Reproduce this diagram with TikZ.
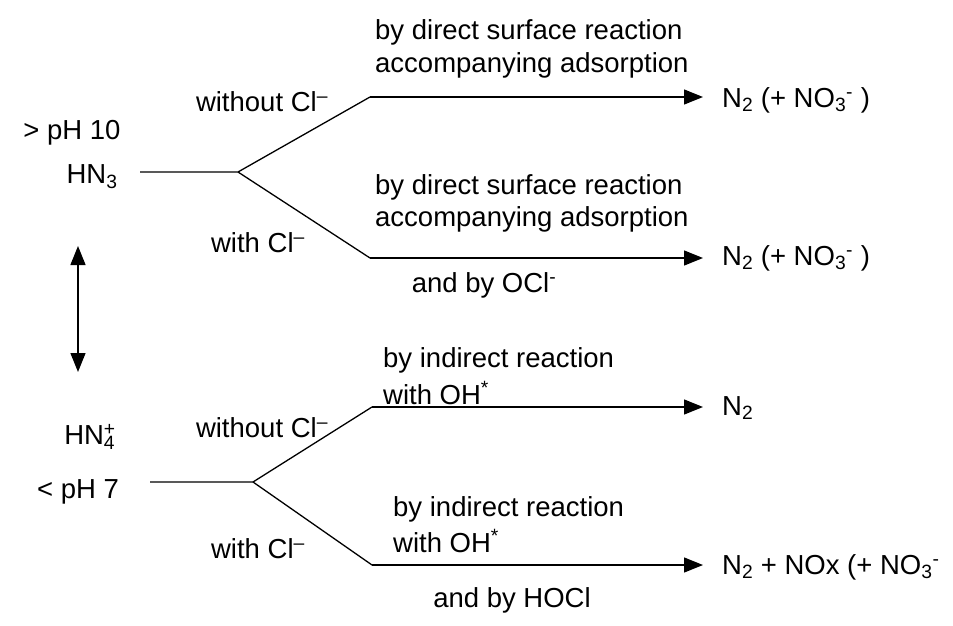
\documentclass[tikz,border=0pt]{standalone}
\usepackage{fontspec}
\setmainfont{Liberation Sans}
\usetikzlibrary{arrows.meta}
\newcommand{\sbs}[1]{\textsubscript{#1}}
\newcommand{\sps}[1]{\textsuperscript{#1}}
\begin{document}
\begin{tikzpicture}[x=1pt,y=-1pt,
  ln/.style={line width=1.3pt},
  arr/.style={ln,-{Triangle[length=19pt,width=15pt]}},
  txt/.style={inner sep=0pt,font=\fontsize{27.5}{32}\selectfont},
  lt/.style={txt,anchor=west}]
\useasboundingbox (0,0) rectangle (953,626);
% top group
\node[txt] (ph10) at (72,133) {> pH 10};
\node[txt] (hn3) at (92,177) {HN\sbs{3}};
\coordinate (a0) at (140,172); \coordinate (a1) at (238,172);
\coordinate (a2) at (370,97); \coordinate (a3) at (370,258);
\node[lt] (n1) at (722,100) {N\sbs{2} (+ NO\sbs{3}\sps{-} )};
\node[lt] (n2) at (722,258) {N\sbs{2} (+ NO\sbs{3}\sps{-} )};
\draw[ln] (a0) -- (a1) -- (a2);
\draw[ln] (a1) -- (a3);
\draw[arr] (a2) -- (703,97);
\draw[arr] (a3) -- (703,258);
\node[txt] (w1) at (262,102) {without Cl\sps{--}};
\node[txt] (w2) at (258,243) {with Cl\sps{--}};
\node[lt] (t1) at (375,32) {by direct surface reaction};
\node[lt] (t2) at (375,65) {accompanying adsorption};
\node[lt] (t3) at (375,187) {by direct surface reaction};
\node[lt] (t4) at (375,219) {accompanying adsorption};
\node[txt] (t5) at (484,285) {and by OCl\sps{-}};
% double arrow
\coordinate (d1) at (78,246); \coordinate (d2) at (78,372);
\draw[ln,{Triangle[length=19pt,width=15pt]}-{Triangle[length=19pt,width=15pt]}] (d1) -- (d2);
% bottom group
\node[txt] (hn4) at (90,437) {HN\rlap{\sbs{4}}\sps{+}};
\node[txt] (ph7) at (78,492) {< pH 7};
\coordinate (b0) at (150,482); \coordinate (b1) at (253,482);
\coordinate (b2) at (372,407); \coordinate (b3) at (372,565);
\draw[ln] (b0) -- (b1) -- (b2);
\draw[ln] (b1) -- (b3);
\draw[arr] (b2) -- (703,407);
\draw[arr] (b3) -- (703,565);
\node[lt] (n3) at (722,408) {N\sbs{2}};
\node[lt] (n4) at (722,567) {N\sbs{2} + NOx (+ NO\sbs{3}\sps{-}};
\node[txt] (w3) at (262,428) {without Cl\sps{--}};
\node[txt] (w4) at (258,549) {with Cl\sps{--}};
\node[lt] (u1) at (383,360) {by indirect reaction};
\node[lt] (u2) at (383,393) {with OH\sps{*}};
\node[lt] (u3) at (393,509) {by indirect reaction};
\node[lt] (u4) at (393,541) {with OH\sps{*}};
\node[txt] (u5) at (512,600) {and by HOCl};
\end{tikzpicture}
\end{document}
